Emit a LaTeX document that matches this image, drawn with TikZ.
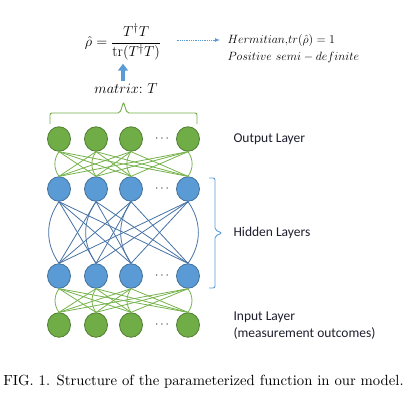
\documentclass[tikz,border=0pt]{standalone}
\usepackage{amsmath}
\usepackage{fontspec}
\setsansfont{Carlito}
\usetikzlibrary{shapes.geometric, arrows.meta}
\definecolor{greenfill}{HTML}{70AD47}
\definecolor{greenline}{HTML}{507E32}
\definecolor{bluefill}{HTML}{5B9BD5}
\definecolor{blueline}{HTML}{41719C}
\definecolor{greenedge}{HTML}{76B24C}
\definecolor{blueedge}{HTML}{4672A4}
\definecolor{ink}{HTML}{1E1E2E}

\begin{document}
\begin{tikzpicture}[x=1pt, y=-1pt, font=\fontsize{12.8}{16}\selectfont,
  neuron/.style={ellipse, draw=#1line, fill=#1fill, line width=0.8pt, minimum width=23pt, minimum height=24.5pt, inner sep=0pt},
  link/.style={draw=#1edge, line width=0.8pt},
  layer/.style={anchor=west, text=ink, font=\sffamily\fontsize{13.5}{17}\selectfont, align=left},
  fatarrow/.style={-{Triangle[width=10pt,length=7pt]}, line width=4.5pt, draw=bluefill},
  dotarrow/.style={-{Latex[length=5pt,width=4pt]}, densely dotted, line width=0.8pt, draw=bluefill}]
\useasboundingbox (0,0) rectangle (419,402);
\foreach \r/\y/\c in {o/139/green, a/189/blue, b/276/blue, i/325/green}{
\foreach \k/\x in {1/59, 2/96, 3/131, 4/188}{
\node[neuron=\c] (\r\k) at (\x,\y) {};
}
\node[text=ink] (\r d) at (163,\y) {$\cdots$};
}
\foreach \u/\l/\c in {o/a/green, a/b/blue, b/i/green}{
\foreach \s in {1,...,4}{
\foreach \t in {1,...,4}{
\pgfmathsetmacro\bnd{(\s==\t)*(\s==4 ? -35 : 35)}
\draw[link=\c] (\u\s.south) to[bend right=\bnd] (\l\t.north);
}
}
}
\draw[greenfill, line width=0.9pt, rounded corners=2pt] (50,124) -- (50,113) -- (120,113) -- (123.5,102) -- (127,113) -- (197,113) -- (197,124);
\draw[bluefill, line width=0.9pt, rounded corners=2pt] (209,178) -- (215,178) -- (215,230) -- (222,233) -- (215,236) -- (215,288) -- (209,288);
\node[layer] (outlbl) at (230,139) {Output Layer};
\node[layer] (hidlbl) at (230,233) {Hidden Layers};
\node[layer] (inlbl) at (230,326) {Input Layer\\(measurement outcomes)};
\node[font=\fontsize{15}{18}\selectfont] (rho) at (123,42) {$\displaystyle\hat{\rho}=\frac{T^\dagger T}{\mathrm{tr}(T^\dagger T)}$};
\node[font=\fontsize{14}{16}\selectfont] (mat) at (126,89) {$matrix{:}\ T$};
\node[anchor=west] (herm) at (224,40) {$Hermitian{,}tr(\hat{\rho})=1$};
\node[anchor=west] (semi) at (224,57) {$Positive\ semi-definite$};
\draw[fatarrow] ([xshift=-3pt]mat.north) -- ([xshift=-3pt]mat.north |- rho.south);
\draw[dotarrow] ([xshift=12pt]rho.east |- herm.west) -- ([xshift=-4pt]herm.west);
\node[anchor=west, font=\rmfamily\fontsize{10}{12}\selectfont, scale=1.47, inner sep=0pt] (cap) at (3,382) {FIG. 1. Structure of the parameterized function in our model.};
\end{tikzpicture}
\end{document}
